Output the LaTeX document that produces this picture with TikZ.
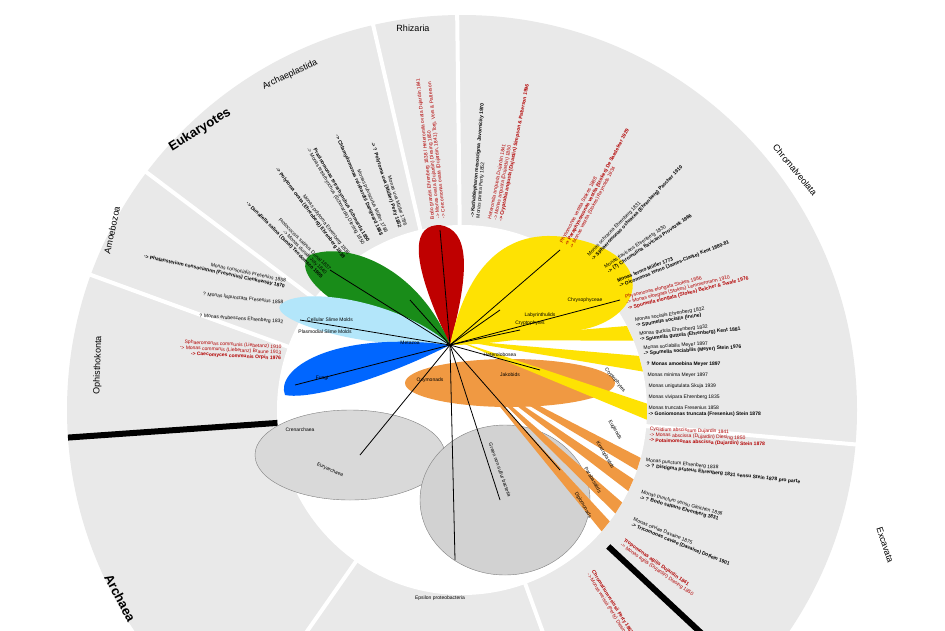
\documentclass[tikz,border=0pt]{standalone}
\usepackage{fontspec}
\setmainfont{Liberation Sans}
\usetikzlibrary{calc}
\begin{document}
\begin{tikzpicture}[x=1pt,y=-1pt,
  sp/.style={font=\fontsize{5}{5.6}\selectfont,anchor=west,align=left,inner sep=0.5pt},
  spr/.style={sp,text=red!70!black},
  spe/.style={sp,anchor=east,align=right},
  spre/.style={spe,text=red!70!black},
  grp/.style={font=\fontsize{9}{10}\selectfont},
  tl/.style={font=\fontsize{5}{6}\selectfont,inner sep=0.5pt},
  sep/.style={white,line width=4pt},
  blk/.style={black,line width=6pt},
  orw/.style={fill=orange!70!brown!80},
  yew/.style={fill=yellow!85!orange}]
\useasboundingbox (0,0) rectangle (945,630);
\fill[white] (0,0) rectangle (945,630);
\coordinate (C) at (462,410);
\begin{scope}
\clip (0,0) rectangle (945,630);
\fill[gray!17] (C) circle (395);
\fill[white] (C) circle (185);
\foreach \a in {-103,-90.7,-143,-160,5,125,70}{
  \draw[sep] ($(C)+(\a:183)$) -- ($(C)+(\a:400)$);}
\draw[blk] ($(C)+(176:185)$) -- ($(C)+(176:395)$);
\draw[blk] ($(C)+(43:200)$) -- ($(C)+(43:395)$);
\end{scope}
% colored petals
\fill[gray!30,draw=gray] (350,455) ellipse (95 and 45);
\fill[gray!35,draw=gray] (505,500) ellipse (85 and 75);
\foreach \a in {15,22,30,37}{
  \path[orw] (470,370) -- ($(C)+(\a:185)$) -- ($(C)+(\a+4:185)$) -- cycle;}
\fill[orange!70!brown!80] (510,383) ellipse (105 and 24);
\fill[red!75!black] (450,345) .. controls (405,250) and (415,225) .. (440,225) .. controls (470,230) and (470,270) .. (450,345);
\fill[green!50!black!90] (450,345) .. controls (330,320) and (290,270) .. (310,255) .. controls (350,240) and (420,270) .. (450,345);
\foreach \a in {-12,-22,-32,-45,-60,3}{
  \path[yew] (455,340) -- ($(C)+(\a:185)$) -- ($(C)+(\a-5:185)$) -- cycle;}
\fill[yellow!85!orange] (450,345) .. controls (470,250) and (520,225) .. (580,240) .. controls (660,260) and (640,320) .. (580,330) .. controls (520,340) and (480,345) .. (450,345);
\fill[cyan!30] (450,345) .. controls (360,350) and (270,320) .. (280,305) .. controls (300,285) and (400,300) .. (450,345);
\fill[blue!60!cyan] (450,345) .. controls (380,380) and (310,400) .. (285,395) .. controls (275,370) and (330,330) .. (450,345);
% tree
\node[coordinate] (T) at (450,345) {};
\foreach \p in {(440,230),(330,270),(300,320),(295,385),(560,250),(620,300),(540,370),(360,455),(500,500),(455,560),(560,470),(410,300),(500,310),(520,330)}{
  \draw[thick] (T) -- \p;}
% inner labels
\node[tl] (n1) at (300,430) {Crenarchaea};
\node[tl,rotate=-25] (n2) at (330,470) {Euryarchaea};
\node[tl] (n3) at (430,380) {Oxymonads};
\node[tl] (n4) at (510,375) {Jakobids};
\node[tl] (n5) at (500,355) {Heterolobosea};
\node[tl] (n6) at (330,320) {Cellular Slime Molds};
\node[tl] (n7) at (325,332) {Plasmodial Slime Molds};
\node[tl] (n8) at (410,343) {Metazoa};
\node[tl] (n9) at (322,378) {Fungi};
\node[tl] (n10) at (530,323) {Cryptophytes};
\node[tl] (n11) at (585,300) {Chrysophyceae};
\node[tl] (n12) at (540,315) {Labyrinthulids};
\node[tl,rotate=-50] (n15) at (615,380) {Cryptophytes};
\node[tl,rotate=-60] (n16) at (615,430) {Euglenids};
\node[tl,rotate=-60] (n17) at (605,455) {Kinetoplastids};
\node[tl,rotate=-60] (n18) at (593,480) {Parabasalids};
\node[tl,rotate=-60] (n19) at (583,505) {Diplomonads};
\node[tl] (n13) at (440,598) {Epsilon proteobacteria};
\node[tl,rotate=-70] (n14) at (500,470) {Green non-sulfur bacteria};
% group labels
\node[grp,font=\bfseries\fontsize{13}{14}\selectfont,rotate=32] (g1) at (200,130) {Eukaryotes};
\node[grp,rotate=25] (g2) at (290,75) {Archaeplastida};
\node[grp] (g3) at (413,28) {Rhizaria};
\node[grp,rotate=-50] (g4) at (795,170) {Chromalveolata};
\node[grp,rotate=78] (g5) at (112,230) {Amoebozoa};
\node[grp,rotate=88] (g6) at (98,365) {Ophisthokonta};
\node[grp,rotate=-72] (g7) at (885,545) {Excavata};
\node[grp,font=\bfseries\fontsize{13}{14}\selectfont,rotate=-62] (g8) at (120,598) {Archaea};
% right species (Chromalveolata)
\node[spr,rotate=62] (s26) at (566,246) {Physomonas vestita Stokes 1888\\\textbf{-> Paraphysomonas vestita (Stokes) De Saedeleer 1929}\\-> Monas vestita (Stokes) Reynolds 1934};
\node[sp,rotate=46] (s27) at (590,258) {Monas ochracea Ehrenberg 1831\\\textbf{-> Sphaeromonas ochracea (Ehrenberg) Pascher 1910}};
\node[sp,rotate=34] (s28) at (606,270) {Monas flavicans Ehrenberg 1830\\\textbf{-> (?) Chromulina flavicans Provazek 1966}};
\node[sp,rotate=22] (s1) at (618,284) {\textbf{Monas termo Müller 1773}\\\textbf{-> Oicomonas termo (James-Clarke) Kent 1880-81}};
\node[spr,rotate=14] (s2) at (626,303) {Physomonas elongata Stokes 1886\\-> Monas elongata (Stokes) Lemmermann 1910\\\textbf{-> Spumella elongata (Stokes) Belcher \& Swale 1976}};
\node[sp,rotate=9] (s3) at (635,323) {Monas socialis Ehrenberg 1832\\\textbf{-> Spumella socialis (Irvine)}};
\node[sp,rotate=6] (s4) at (639,337) {Monas guttula Ehrenberg 1832\\\textbf{-> Spumella guttula (Ehrenberg) Kent 1881}};
\node[sp,rotate=4] (s5) at (643,351) {Monas sociabilis Meyer 1897\\\textbf{-> Spumella sociabilis (Meyer) Stein 1976}};
\node[sp,font=\bfseries\fontsize{5}{6}\selectfont] (s6) at (646,364) {? Monas amoebina Meyer 1897};
\node[sp] (s7) at (647,375) {Monas minima Meyer 1897};
\node[sp] (s8) at (648,386) {Monas unigutulata Skuja 1939};
\node[sp] (s9) at (648,397) {Monas vivipara Ehrenberg 1835};
\node[sp] (s10) at (648,411) {Monas truncata Fresenius 1858\\\textbf{-> Goniomonas truncata (Fresenius) Stein 1878}};
\node[spr,rotate=-2] (s11) at (649,435) {Cyclidium abscissum Dujardin 1841\\-> Monas abscissa (Dujardin) Diesing 1850\\\textbf{-> Potaimomonas abscissa (Dujardin) Stein 1878}};
% Excavata
\node[sp,rotate=-6] (s12) at (645,463) {Monas punctum Ehrenberg 1838\\\textbf{-> ? Distigma proteus Ehrenberg 1831 sensu Stein 1878 pro parte}};
\node[sp,rotate=-15] (s13) at (640,495) {Monas punctum sensu Gleichen 1836\\\textbf{-> ? Bodo saltans Ehrenberg 1831}};
\node[sp,rotate=-22] (s14) at (632,522) {Monas caviae Davaine 1875\\\textbf{-> Tricomonas caviae (Davaine) Doflein 1901}};
\node[spr,rotate=-35] (s15) at (622,542) {\textbf{Tropomonas agilis Dujardin 1841}\\-> Monas agilis (Dujardin) Diesing 1850};
% bacteria sector
\node[spr,rotate=-58] (s29) at (590,572) {\textbf{Chromatium weissii Perty 1852}\\-> Monas weissii (Perty) Diesing};
% left species
\node[spe,rotate=-12] (s16) at (286,284) {Monas consocialis Fresenius 1858\\\textbf{-> Phalansterium consociatum (Fresenius) Cienkowsky 1870}};
\node[spe,rotate=-6] (s17) at (284,303) {? Monas lispunctata Fresenius 1858};
\node[spe,rotate=-4] (s18) at (284,322) {? Monas erubescens Ehrenberg 1832};
\node[spre,rotate=-3] (s19) at (282,353) {Sphaeromonas communis (Liebetanz) 1910\\-> Monas communis (Liebetanz) Braune 1913\\\textbf{-> Caecomyces communis Orpin 1976}};
% top species radial
\node[sp,rotate=85] (s20) at ($(C)+(-86:192)$) {\textbf{-> Kathablepharon mesostigma Javornicky 1970}\\Monas partita Perty 1852};
\node[spr,rotate=79] (s21) at ($(C)+(-80:192)$) {Heteromita angusta Dujardin 1841\\-> Monas angusta (Dujardin) 1850\\\textbf{-> Cryptobia angusta (Dujardin) Simpson \& Patterson 1996}};
\node[spr,rotate=96] (s22) at ($(C)+(-97:192)$) {Bodo grandis Ehrenberg 1838 / Heteromita ovata Dujardin 1841\\-> Monas ovata (Dujardin) Diesing 1850\\-> Cercomonas ovata (Dujardin, 1841) Torg, Vors \& Patterson};
\node[spe,rotate=-72] (s23) at ($(C)+(-108:192)$) {Monas uva Müller 1786\\\textbf{-> ? Polytoma uva (Müller) Perty 1852}};
\node[spe,rotate=-66] (s24) at ($(C)+(-114:192)$) {Monas pulvisculus Müller 1786\\\textbf{-> Chlamydomonas reinhardtii Dangeard 1888}};
\node[spe,rotate=-60] (s30) at ($(C)+(-120:192)$) {\textbf{Prasinomonas tetrarhynchus Schmarda 1850}\\-> Monas tetrarhynchus (Schmarda) Diesing 1850};
\node[spe,rotate=-53] (s25) at ($(C)+(-127:192)$) {Monas polytoma Ehrenberg 1838\\\textbf{-> Polytoma ovata (Ehrenberg) Ehrenberg 1838}};
\node[spe,rotate=-45] (s31) at ($(C)+(-135:192)$) {Protococcus salinus Dunal 1837\\-> Monas dunalii Joly 1840\\\textbf{-> Dunaliella salina (Dunal) Teodoresco 1905}};
\end{tikzpicture}
\end{document}
